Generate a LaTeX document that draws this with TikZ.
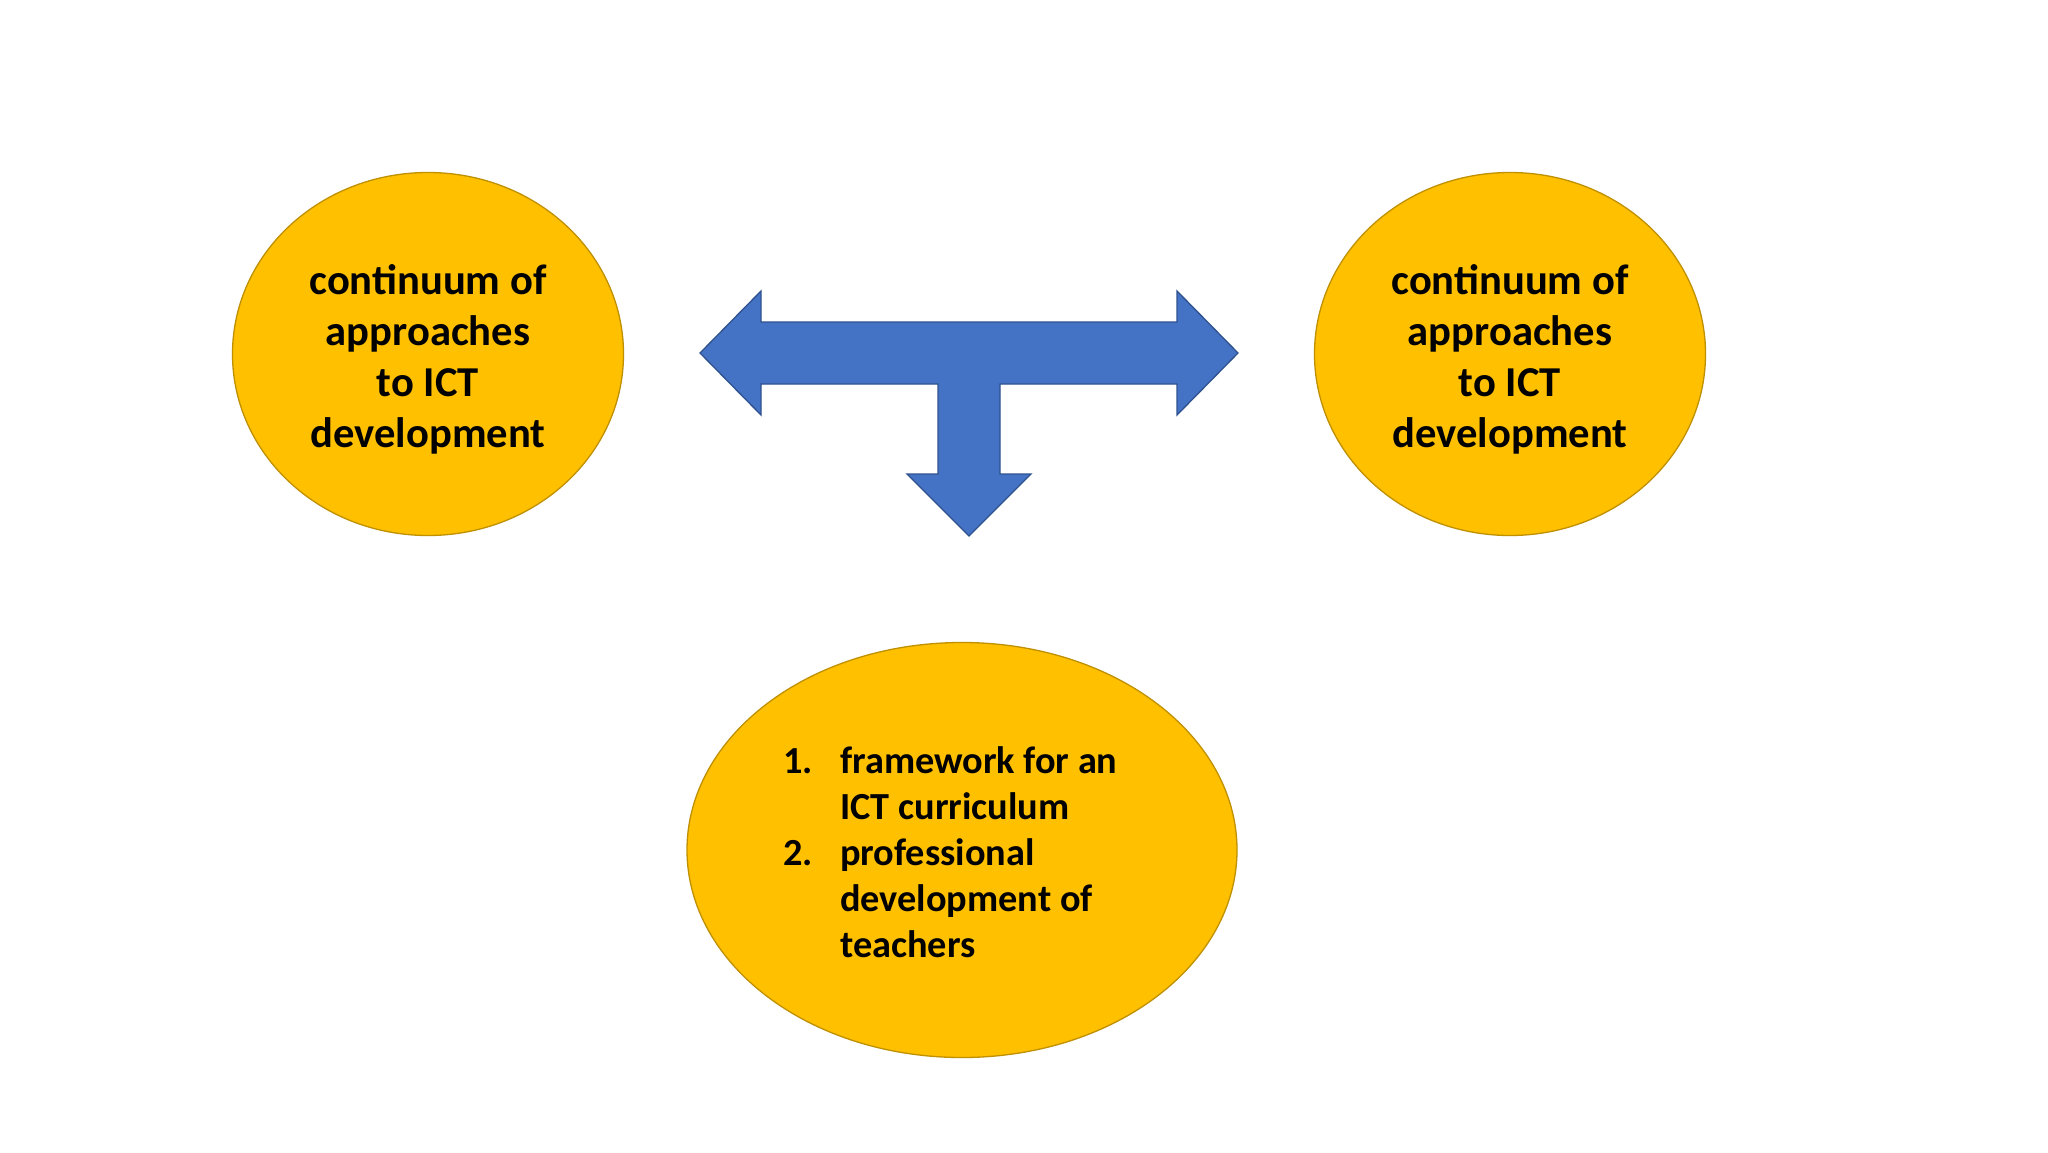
\documentclass[tikz,border=0pt]{standalone}
\usepackage{fontspec}
\setmainfont{Carlito}
\usetikzlibrary{shapes.geometric}
\definecolor{gold}{HTML}{FFC000}
\definecolor{golddark}{HTML}{BF9000}
\definecolor{arrowblue}{HTML}{4472C4}
\definecolor{arrowline}{HTML}{2F528F}
\tikzset{
  bubble/.style={ellipse, fill=gold, draw=golddark, line width=1.3pt, inner sep=0pt},
  bubbletext/.style={align=center, font=\fontsize{42.6}{51}\selectfont\bfseries, text=black},
  listtext/.style={align=left, font=\fontsize{38.3}{46}\selectfont\bfseries, text=black, inner sep=0pt},
  blockarrow/.style={fill=arrowblue, draw=arrowline, line width=1.3pt, line join=miter}
}
\begin{document}
\begin{tikzpicture}[x=1pt,y=-1pt]
\useasboundingbox[fill=white] (0,0) rectangle (2048,1152);
% ellipses
\node[bubble, minimum width=391pt, minimum height=363pt] (left) at (428,354) {};
\node[bubble, minimum width=391pt, minimum height=363pt] (right) at (1510,354) {};
\node[bubble, minimum width=550pt, minimum height=415pt] (bottom) at (962,850) {};
% texts
\node[bubbletext] (lefttext) at (428,359) {continuum of\\approaches\\to ICT\\development};
\node[bubbletext] (righttext) at (1510,359) {continuum of\\approaches\\to ICT\\development};
\node[listtext, anchor=west] (listtxt) at (783,852) {%
\makebox[57pt][l]{1.}framework for an\\
\makebox[57pt][l]{}ICT curriculum\\
\makebox[57pt][l]{2.}professional\\
\makebox[57pt][l]{}development of\\
\makebox[57pt][l]{}teachers};
% T-shaped block arrow
\draw[blockarrow]
  (700,353) -- (761,291) -- (761,322) -- (1177,322) -- (1177,291) -- (1238,353)
  -- (1177,415) -- (1177,384) -- (1000,384) -- (1000,474) -- (1031,474)
  -- (969,536) -- (907,474) -- (938,474) -- (938,384) -- (761,384)
  -- (761,415) -- cycle;
\end{tikzpicture}
\end{document}
